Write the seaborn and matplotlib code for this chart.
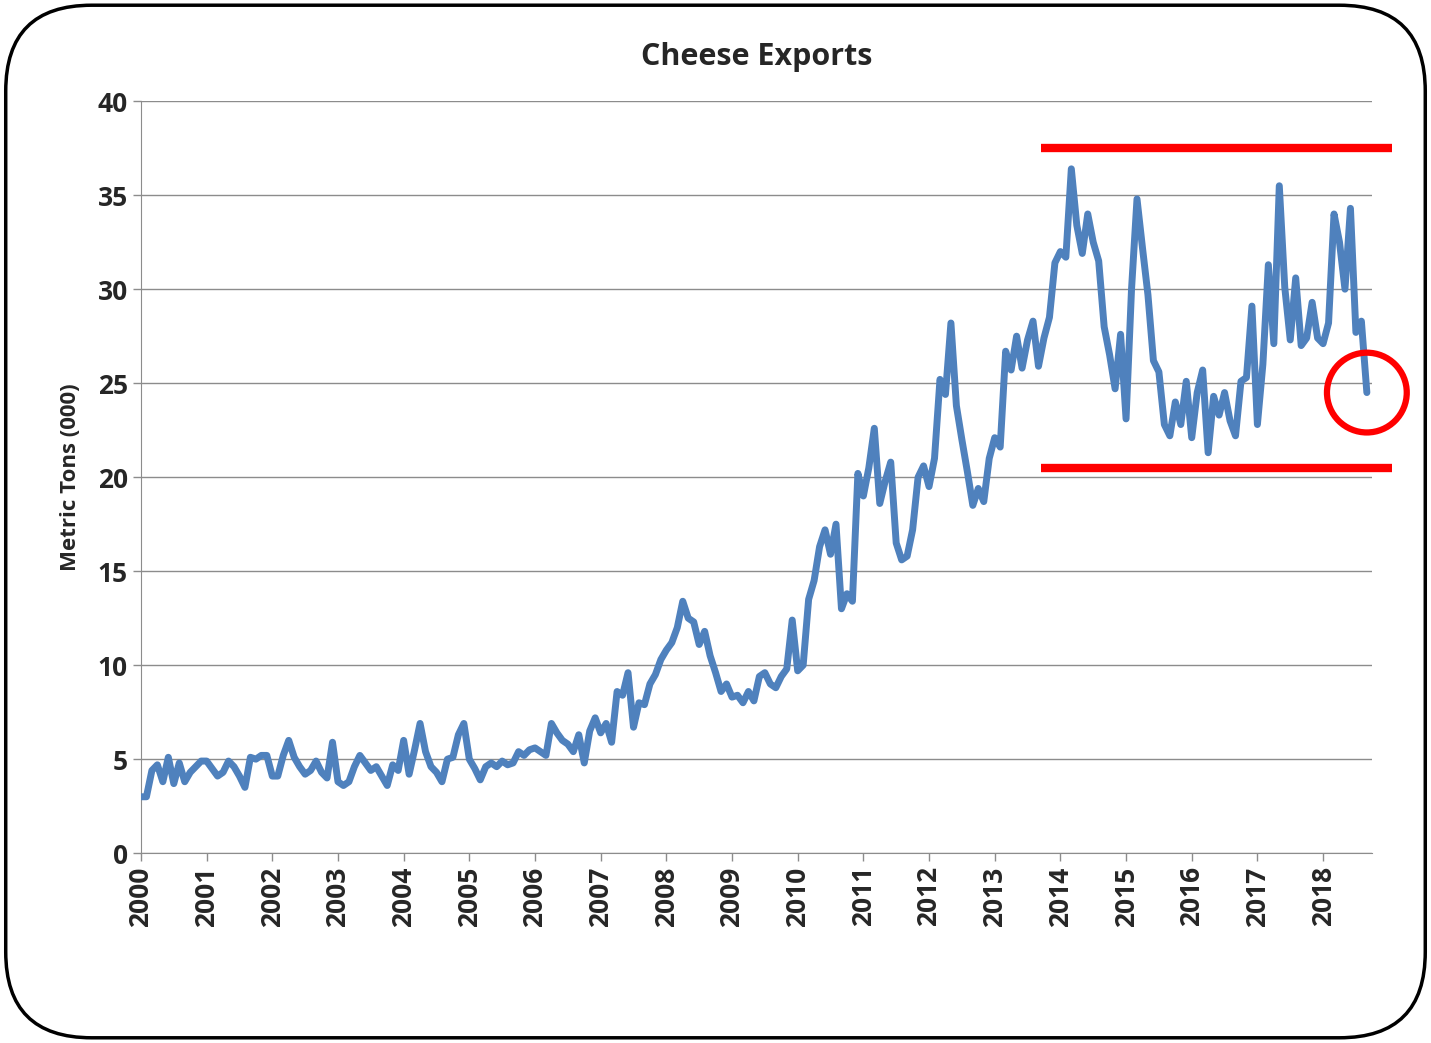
import numpy as np
import pandas as pd
import matplotlib
matplotlib.use("Agg")
import matplotlib.pyplot as plt
from matplotlib.patches import FancyBboxPatch
import seaborn as sns

# monthly cheese exports, thousand metric tons, Jan 2000 onward
y2000 = [3.0, 3.0, 4.4, 4.7, 3.8, 5.1, 3.7, 4.8, 3.8, 4.3, 4.6, 4.9]
y2001 = [4.9, 4.5, 4.1, 4.3, 4.9, 4.6, 4.1, 3.5, 5.1, 5.0, 5.2]
y2002 = [5.2, 4.1, 4.1, 5.2, 6.0, 5.1, 4.6, 4.2, 4.4, 4.9, 4.3, 4.0]
y2003 = [5.9, 3.8, 3.6, 3.8, 4.6, 5.2, 4.8, 4.4, 4.6, 4.1, 3.6, 4.7]
y2004 = [4.4, 6.0, 4.2, 5.5, 6.9, 5.4, 4.6, 4.3, 3.8, 5.0, 5.1, 6.3]
y2005 = [6.9, 5.0, 4.5, 3.9, 4.6, 4.8, 4.6, 4.9, 4.7, 4.8, 5.4, 5.2]
y2006 = [5.5, 5.6, 5.4, 5.2, 6.9, 6.4, 6.0, 5.8, 5.4, 6.3, 4.8, 6.5]
y2007 = [7.2, 6.4, 6.9, 5.9, 8.6, 8.4, 9.6, 6.7, 8.0, 7.9, 9.0]
y2008 = [9.5, 10.3, 10.8, 11.2, 12.0, 13.4, 12.5, 12.3, 11.1, 11.8, 10.5, 9.6]
y2009 = [8.6, 9.0, 8.3, 8.4, 8.0, 8.6, 8.1, 9.4, 9.6, 9.0, 8.8, 9.4]
y2010 = [9.8, 12.4, 9.7, 10.0, 13.5, 14.5, 16.3, 17.2, 15.9, 17.5, 13.0, 13.8]
y2011 = [13.4, 20.2, 19.0, 20.5, 22.6, 18.6, 19.8, 20.8, 16.5, 15.6, 15.8, 17.2]
y2012 = [20.0, 20.6, 19.5, 21.0, 25.2, 24.4, 28.2, 23.8, 22.0, 20.3, 18.5, 19.4]
y2013 = [18.7, 21.0, 22.1, 21.6, 26.7, 25.7, 27.5, 25.8, 27.3, 28.3, 25.9, 27.4]
y2014 = [28.5, 31.4, 32.0, 31.7, 36.4, 33.4, 31.9, 34.0, 32.5, 31.5, 28.0, 26.5]
y2015 = [24.7, 27.6, 23.1, 30.0, 34.8, 32.2, 29.7, 26.2, 25.6, 22.8, 22.2, 24.0]
y2016 = [22.8, 25.1, 22.1, 24.5, 25.7, 21.3, 24.3, 23.3, 24.5, 23.0, 22.2, 25.1]
y2017 = [25.3, 29.1, 22.8, 26.0, 31.3, 27.1, 35.5, 30.1, 27.3, 30.6, 27.0, 27.4]
y2018 = [29.3, 27.4, 27.1, 28.2, 34.0, 32.5, 30.0, 34.3, 27.7, 28.3, 24.5]

exports = (y2000 + y2001 + y2002 + y2003 + y2004 + y2005 + y2006 + y2007 + y2008
           + y2009 + y2010 + y2011 + y2012 + y2013 + y2014 + y2015 + y2016 + y2017 + y2018)
years = list(range(2000, 2019))
band_low, band_high = 20.5, 37.5

df = pd.DataFrame({"t": 2000 + np.arange(len(exports)) / 12.0, "v": exports})

sns.set_style("white")
plt.rcParams["font.family"] = ["Open Sans", "DejaVu Sans"]

fig = plt.figure(figsize=(14.31, 10.43), dpi=100)
fig.patches.append(FancyBboxPatch((0.004, 0.005), 0.992, 0.99, boxstyle="round,pad=0,rounding_size=0.06",
                                  transform=fig.transFigure, fill=False, lw=2.5, ec="black",
                                  mutation_aspect=1431 / 1043))
ax = fig.add_axes([0.0985, 0.182, 0.8605, 0.721])

ax.yaxis.grid(True, color="#8c8c8c", lw=1)
sns.lineplot(data=df, x="t", y="v", ax=ax, color="#4F81BD", lw=5, zorder=3)

ax.plot([2013.7, 2019.05], [band_high, band_high], color="#FF0000", lw=6, clip_on=False, zorder=4, solid_capstyle="butt")
ax.plot([2013.7, 2019.05], [band_low, band_low], color="#FF0000", lw=6, clip_on=False, zorder=4, solid_capstyle="butt")
ax.scatter([df.t.iloc[-1]], [24.5], s=3300, facecolors="none", edgecolors="#FF0000", linewidths=4.5,
           clip_on=False, zorder=5)

ax.set_xlim(2000, 2018.75)
ax.set_ylim(0, 40)
ax.set_yticks(range(0, 41, 5))
ax.set_xticks(years)
ax.set_xticklabels([str(y) for y in years], rotation=90, fontsize=19, fontweight="bold")
ax.tick_params(axis="y", labelsize=19, length=6, direction="out", left=True, width=1, color="#8c8c8c")
ax.tick_params(axis="x", length=6, direction="out", bottom=True, width=1, color="#8c8c8c")
for lbl in ax.get_yticklabels():
    lbl.set_fontweight("bold")
for s in ["top", "right"]:
    ax.spines[s].set_visible(False)
for s in ["left", "bottom"]:
    ax.spines[s].set_color("#8c8c8c")
ax.set_xlabel("")
ax.set_ylabel("Metric Tons (000)", fontsize=16, fontweight="bold", labelpad=12)
ax.set_title("Cheese Exports", fontsize=22, fontweight="bold", pad=26)

fig.savefig("out.png", dpi=100)
